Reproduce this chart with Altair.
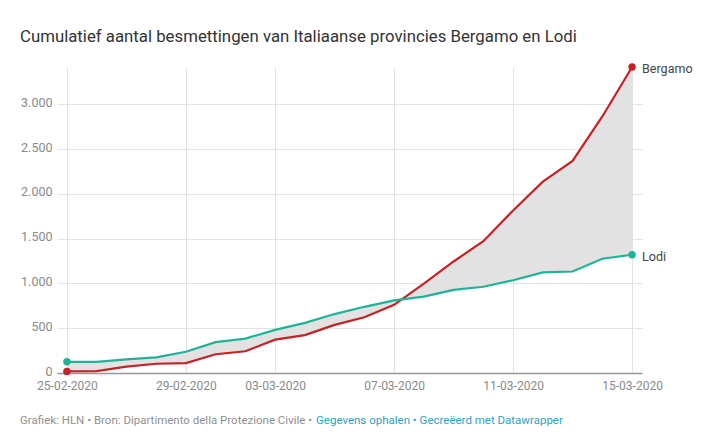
import altair as alt
import pandas as pd

dates = ["2020-02-25", "2020-02-26", "2020-02-27", "2020-02-28", "2020-02-29",
         "2020-03-01", "2020-03-02", "2020-03-03", "2020-03-04", "2020-03-05",
         "2020-03-06", "2020-03-07", "2020-03-08", "2020-03-09", "2020-03-10",
         "2020-03-11", "2020-03-12", "2020-03-13", "2020-03-14", "2020-03-15"]
bergamo = [18, 20, 72, 103, 110, 209, 243, 372, 423, 537,
           623, 761, 997, 1245, 1472, 1815, 2136, 2368, 2864, 3416]
lodi = [125, 125, 153, 174, 237, 344, 384, 482, 559, 658,
        739, 811, 853, 928, 963, 1035, 1123, 1133, 1276, 1320]
series_names = ["Bergamo", "Lodi"]
series_colors = ["#c42326", "#1fb398"]
x_ticks = ["2020-02-25", "2020-02-29", "2020-03-03", "2020-03-07", "2020-03-11", "2020-03-15"]
y_ticks = [0, 500, 1000, 1500, 2000, 2500, 3000]
title_text = ["Cumulatief aantal besmettingen van Italiaanse provincies Bergamo en Lodi"]
footer_grey = ["Grafiek: HLN • Bron: Dipartimento della Protezione Civile •"]
footer_links = ["Gegevens ophalen • Gecreëerd met Datawrapper"]

wide = pd.DataFrame({"datum": dates, "Bergamo": bergamo, "Lodi": lodi})
long = wide.melt("datum", var_name="provincie", value_name="aantal")
ends = long[long["datum"].isin([dates[0], dates[-1]])]
last = long[long["datum"] == dates[-1]]


def dt(s, hours=0):
    return alt.DateTime(year=int(s[:4]), month=int(s[5:7]), date=int(s[8:10]), hours=hours, utc=True)


x_scale = alt.Scale(type="utc", domain=[dt("2020-02-24", 16), dt("2020-03-15", 8)], nice=False)
x_axis = alt.Axis(values=[dt(s) for s in x_ticks], format="%d-%m-%Y", title=None,
                  ticks=False, grid=True, gridColor="#e3e3e3", gridWidth=1,
                  domain=True, domainColor="#999999", domainWidth=1.5,
                  labelFont="Roboto", labelFontSize=12, labelColor="#8a8a8a",
                  labelPadding=7)
y_scale = alt.Scale(domain=[0, max(bergamo)], nice=False, zero=True)
y_axis = alt.Axis(values=y_ticks, title=None, ticks=False, domain=False, grid=True,
                  gridColor="#e3e3e3", gridWidth=1,
                  labelExpr="replace(format(datum.value, ','), ',', '.')",
                  labelFont="Roboto", labelFontSize=12.5, labelColor="#8a8a8a",
                  labelPadding=5, labelOffset=-2)

color = alt.Color("provincie:N", scale=alt.Scale(domain=series_names, range=series_colors), legend=None)

area = alt.Chart(wide).mark_area(color="#e2e2e2").encode(
    x=alt.X("datum:T", scale=x_scale, axis=x_axis),
    y=alt.Y("Bergamo:Q", scale=y_scale, axis=y_axis),
    y2="Lodi:Q",
)

lines = alt.Chart(long).mark_line(strokeWidth=2.2).encode(
    x=alt.X("datum:T", scale=x_scale, axis=x_axis),
    y=alt.Y("aantal:Q", scale=y_scale, axis=y_axis),
    color=color,
)

points = alt.Chart(ends).mark_circle(size=55, opacity=1).encode(
    x=alt.X("datum:T", scale=x_scale, axis=x_axis),
    y=alt.Y("aantal:Q", scale=y_scale, axis=y_axis),
    color=color,
)

labels = alt.Chart(last).mark_text(align="left", baseline="middle", dx=10, dy=2,
                                   font="Roboto", fontSize=12.5, color="#444444").encode(
    x=alt.X("datum:T", scale=x_scale, axis=x_axis),
    y=alt.Y("aantal:Q", scale=y_scale, axis=y_axis),
    text="provincie:N",
)

title = alt.Chart(pd.DataFrame({"t": title_text})).mark_text(
    align="left", baseline="middle", font="Roboto", fontSize=16.8, color="#333333"
).encode(x=alt.value(-37), y=alt.value(-30), text="t:N")

foot1 = alt.Chart(pd.DataFrame({"t": footer_grey})).mark_text(
    align="left", baseline="middle", font="Roboto", fontSize=11.5, color="#8f8f8f"
).encode(x=alt.value(-37), y=alt.value(354), text="t:N")

foot2 = alt.Chart(pd.DataFrame({"t": footer_links})).mark_text(
    align="left", baseline="middle", font="Roboto", fontSize=11.5, color="#2aa3c6"
).encode(x=alt.value(259), y=alt.value(354), text="t:N")

chart = alt.layer(area, lines, points, labels, title, foot1, foot2).properties(
    width=585, height=306,
    autosize=alt.AutoSizeParams(type="none"),
    padding={"left": 57, "top": 67, "right": 63, "bottom": 72},
    background="white",
).configure_view(stroke=None)

chart.save("out.html", embed_options={"renderer": "svg", "actions": False})
